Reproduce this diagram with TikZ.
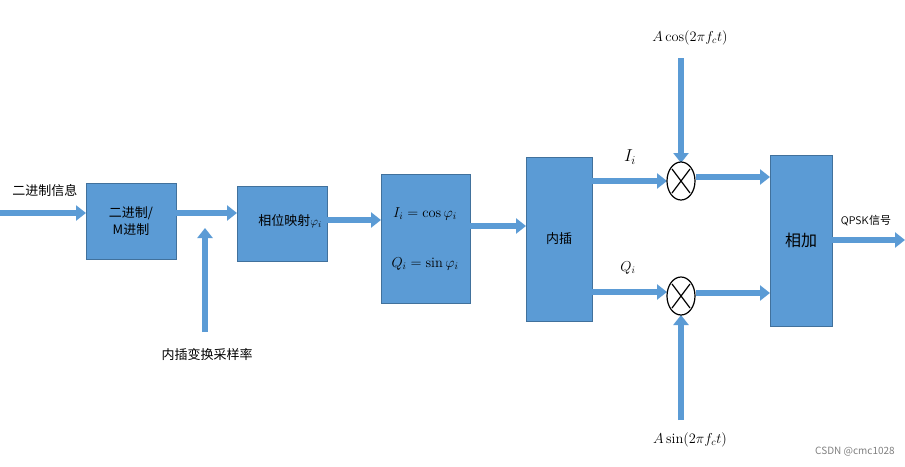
\documentclass[tikz,border=0pt]{standalone}
\usepackage{fontspec}
\newfontfamily\cjk{Noto Sans CJK SC}
\usetikzlibrary{arrows.meta}
\definecolor{bf}{HTML}{5B9BD5}
\definecolor{bd}{HTML}{41719C}
\begin{document}
\begin{tikzpicture}[x=1pt,y=-1pt,
 box/.style={draw=bd,fill=bf,line width=0.6pt},
 ar/.style={bf,line width=6pt,-{Triangle[width=15pt,length=10pt]}},
 lab/.style={font=\cjk\fontsize{13}{15}\selectfont},
 mul/.style={draw,line width=1.2pt,fill=white,ellipse,minimum width=28pt,minimum height=38pt,inner sep=0pt}]
\useasboundingbox (0,0) rectangle (905,466);
\draw[box] (86,183) rectangle (176,259); \node[lab] (b1) at (131,221) {\shortstack{二进制/\\M进制}};
\draw[box] (237,186) rectangle (327,261); \node[lab] (b2) at (290,221) {相位映射$\varphi_i$};
\draw[box] (381,174) rectangle (470,303);
\node[font=\Large] (b3a) at (425,214) {$I_i=\cos\varphi_i$};
\node[font=\Large] (b3b) at (425,264) {$Q_i=\sin\varphi_i$};
\draw[box] (526,157) rectangle (592,321); \node[lab] (b4) at (559,239) {内插};
\draw[box] (770,155) rectangle (832,326); \node[lab,font=\cjk\fontsize{16}{18}\selectfont] (b5) at (801,240) {相加};
\draw[ar] (0,213) -- (86,213);
\draw[ar] (176,213) -- (237,213);
\draw[ar] (205,332) -- (205,228);
\draw[ar] (327,220) -- (381,220);
\draw[ar] (470,226) -- (526,226);
\draw[ar] (592,181) -- (667,181);
\draw[ar] (592,292) -- (667,292);
\draw[ar] (696,177) -- (770,177);
\draw[ar] (696,293) -- (770,293);
\draw[ar] (832,240) -- (905,240);
\draw[ar] (681,58) -- (681,163);
\draw[ar] (681,420) -- (681,315);
\foreach \n/\y in {m1/181,m2/296}{
 \draw[line width=1.2pt,fill=white] (681,\y) ellipse (14 and 19);
 \draw[line width=1.2pt] (681-9,\y-12) -- (681+9,\y+12) (681-9,\y+12) -- (681+9,\y-12);}
\node[lab] (t1) at (45,191) {二进制信息};
\node[lab] (t2) at (207,355) {内插变换采样率};
\node[lab,font=\sffamily\fontsize{11}{13}\selectfont] (t3) at (866,221) {QPSK{\cjk 信号}};
\node[font=\Large] (t4) at (690,38) {$A\cos(2\pi f_c t)$};
\node[font=\Large] (t5) at (690,440) {$A\sin(2\pi f_c t)$};
\node[font=\LARGE] (t6) at (630,157) {$I_i$};
\node[font=\Large] (t7) at (628,268) {$Q_i$};
\node[font=\cjk\fontsize{10}{12}\selectfont,gray] (t8) at (855,452) {CSDN @cmc1028};
\end{tikzpicture}
\end{document}
